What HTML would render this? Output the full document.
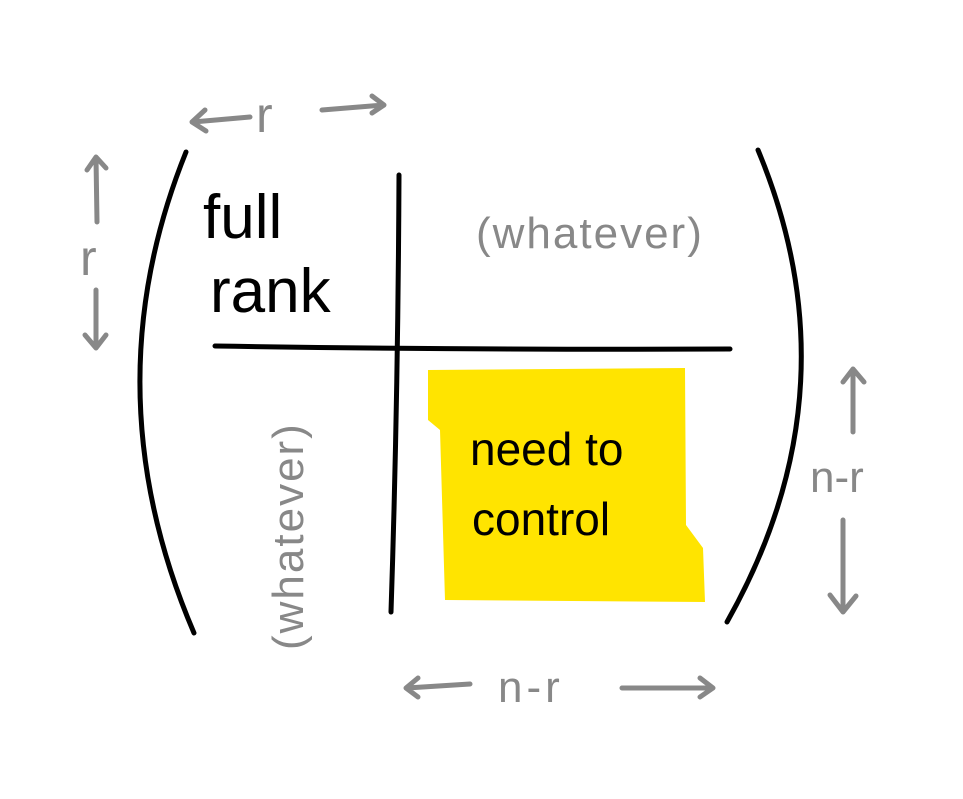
<!DOCTYPE html>
<html><head><meta charset="utf-8"><style>
html,body{margin:0;padding:0;background:#fff}
svg{display:block}
text{font-family:"Liberation Sans",sans-serif}
</style></head><body>
<svg width="963" height="799" viewBox="0 0 963 799" xmlns="http://www.w3.org/2000/svg">
<rect width="963" height="799" fill="#fff"/>
<path d="M428,370 L685,368 L686,525 L703,548 L705,602 L445,600 L440,430 L428,420 Z" fill="#FFE400"/>
<path d="M186,152 Q90,390 194,633" fill="none" stroke="#000" stroke-width="5" stroke-linecap="round"/>
<path d="M758,150 Q858,390 727,622" fill="none" stroke="#000" stroke-width="5" stroke-linecap="round"/>
<path d="M399,175 Q398,400 391,612" fill="none" stroke="#000" stroke-width="5" stroke-linecap="round"/>
<path d="M215,346 Q470,350 730,349" fill="none" stroke="#000" stroke-width="5" stroke-linecap="round"/>
<text x="203" y="238" font-size="62" fill="#000">full</text>
<text x="210" y="312" font-size="62" fill="#000">rank</text>
<text x="476" y="248" font-size="44" fill="#888" letter-spacing="2">(whatever)</text>
<text x="470" y="465" font-size="46" fill="#000">need to</text>
<text x="472" y="535" font-size="46" fill="#000">control</text>
<text x="0" y="0" font-size="44" fill="#888" letter-spacing="2" transform="translate(303,650) rotate(-90)">(whatever)</text>
<g stroke="#888" stroke-width="5" fill="none" stroke-linecap="round" stroke-linejoin="round">
<path d="M193,122 L250,117 M205,110 L192,122 L206,131"/>
<path d="M322,110 L383,105 M372,96 L384,105 L372,113"/>
<path d="M96,158 L97,222 M87,170 L96,157 L106,168"/>
<path d="M96,290 L96,348 M85,335 L96,348 L106,335"/>
<path d="M853,370 L853,432 M843,382 L853,369 L864,382"/>
<path d="M843,520 L843,612 M830,595 L843,612 L856,596"/>
<path d="M407,688 L470,684 M418,678 L406,688 L418,697"/>
<path d="M622,688 L712,688 M700,678 L713,688 L700,697"/>
</g>
<text x="256" y="132" font-size="50" fill="#888">r</text>
<text x="80" y="275" font-size="50" fill="#888">r</text>
<text x="810" y="492" font-size="44" fill="#888">n-r</text>
<text x="498" y="702" font-size="44" fill="#888" letter-spacing="4">n-r</text>
</svg>
</body></html>
